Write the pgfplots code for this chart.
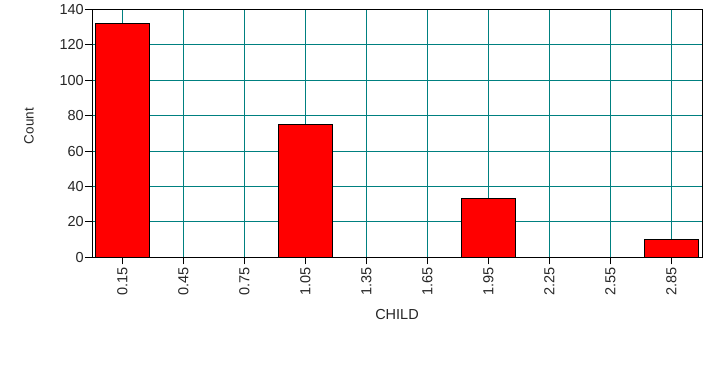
\documentclass[border=0pt]{standalone}
\usepackage{pgfplots}
\pgfplotsset{compat=1.18}
\usepackage{fontspec}
\setmainfont{Liberation Sans}
\definecolor{gridteal}{RGB}{0,128,128}
\begin{document}
\begin{tikzpicture}[x=1bp,y=1bp]
\useasboundingbox (-92bp,-112.7bp) rectangle (628bp,257.3bp);
\begin{axis}[
  at={(0,0)}, anchor=south west,
  scale only axis, width=610bp, height=248bp,
  xmin=0, xmax=3, ymin=0, ymax=140,
  xtick={0.15,0.45,0.75,1.05,1.35,1.65,1.95,2.25,2.55,2.85},
  xticklabels={0.15,0.45,0.75,1.05,1.35,1.65,1.95,2.25,2.55,2.85},
  ytick={0,20,...,140},
  xtick pos=bottom, ytick pos=left,
  tick align=outside, major tick length=7bp,
  tick style={black, line width=1bp},
  axis line style={black, line width=1bp},
  grid=major,
  major grid style={gridteal, line width=1bp},
  /pgf/number format/assume math mode=true,
  tick label style={font=\fontsize{14.5bp}{17bp}\selectfont, text=black!85},
  xticklabel style={rotate=90, anchor=east, inner sep=0pt, xshift=-3bp},
  yticklabel style={anchor=east, inner sep=0pt, xshift=-1bp},
  xlabel={CHILD}, ylabel={Count},
  label style={text=black!85},
  xlabel style={font=\fontsize{14.5bp}{17bp}\selectfont, at={(axis description cs:0.5,0)}, anchor=center, yshift=-57.7bp},
  ylabel style={font=\fontsize{13.5bp}{16bp}\selectfont, at={(axis description cs:0,0.529)}, anchor=center, yshift=63bp},
]
\addplot[ybar, bar width=0.27, bar shift=0pt, fill=red, draw=black, line width=1bp]
  coordinates {(0.15,132) (1.05,75) (1.95,33) (2.85,10)};
\end{axis}
\end{tikzpicture}
\end{document}
